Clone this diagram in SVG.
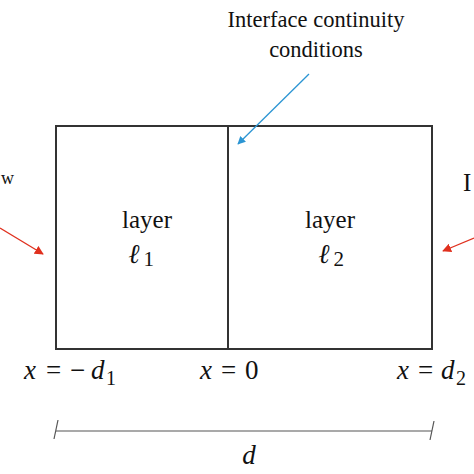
<svg xmlns="http://www.w3.org/2000/svg" width="474" height="474" viewBox="0 0 474 474">
<defs>
<style>
.t{font-family:"Liberation Serif","Times New Roman",serif;fill:#111;}
.i{font-style:italic;}
.box{fill:none;stroke:#333;stroke-width:2;}
.dim{stroke:#555;stroke-width:1.2;fill:none;}
</style>
<marker id="ab" viewBox="0 0 10 10" refX="9" refY="5" markerWidth="8" markerHeight="8" orient="auto" markerUnits="userSpaceOnUse"><path d="M0,0 L10,5 L0,10 z" fill="#2b95d3"/></marker>
<marker id="ar" viewBox="0 0 10 10" refX="9" refY="5" markerWidth="9" markerHeight="9" orient="auto" markerUnits="userSpaceOnUse"><path d="M0,0 L10,5 L0,10 z" fill="#e0301e"/></marker>
</defs>
<rect width="474" height="474" fill="#fff"/>
<g id="layer1">
<rect class="box" x="56" y="126" width="172" height="223"/>
<text class="t" x="147" y="228" font-size="25" text-anchor="middle">layer</text>
<text class="t" x="141" y="263" font-size="27" text-anchor="middle"><tspan class="i">ℓ</tspan><tspan font-size="21" dx="4" dy="3">1</tspan></text>
</g>
<g id="layer2">
<rect class="box" x="228" y="126" width="204" height="223"/>
<text class="t" x="330" y="228" font-size="25" text-anchor="middle">layer</text>
<text class="t" x="331" y="263" font-size="27" text-anchor="middle"><tspan class="i">ℓ</tspan><tspan font-size="21" dx="4" dy="3">2</tspan></text>
</g>
<g id="interface-label">
<text class="t" x="316" y="27" font-size="22.5" text-anchor="middle">Interface continuity</text>
<text class="t" x="316" y="57" font-size="22.5" text-anchor="middle">conditions</text>
</g>
<g id="left-label"><text class="t" x="14" y="184" font-size="18" text-anchor="end">w</text></g>
<g id="right-label"><text class="t" x="463" y="191" font-size="25">I</text></g>
<g id="coords">
<text class="t" y="379" font-size="27"><tspan class="i" x="24">x</tspan><tspan x="46">=</tspan><tspan x="70">−</tspan><tspan class="i" x="91">d</tspan><tspan font-size="20" x="106" dy="6">1</tspan></text>
<text class="t" y="379" font-size="27"><tspan class="i" x="200">x</tspan><tspan x="221">=</tspan><tspan x="245">0</tspan></text>
<text class="t" y="379" font-size="27"><tspan class="i" x="397">x</tspan><tspan x="418">=</tspan><tspan class="i" x="441">d</tspan><tspan font-size="20" x="456" dy="6">2</tspan></text>
<text class="t i" x="249" y="464" font-size="27" text-anchor="middle">d</text>
</g>
<g id="connectors">
<line x1="309" y1="74" x2="238" y2="144" stroke="#2b95d3" stroke-width="1.3" marker-end="url(#ab)"/>
<line x1="0" y1="228" x2="43" y2="254" stroke="#e0301e" stroke-width="1.3" marker-end="url(#ar)"/>
<line x1="474" y1="238" x2="443" y2="251" stroke="#e0301e" stroke-width="1.3" marker-end="url(#ar)"/>
<line class="dim" x1="56" y1="431" x2="432" y2="431"/>
<line class="dim" x1="54" y1="439" x2="58" y2="420"/>
<line class="dim" x1="430" y1="440" x2="434" y2="421"/>
</g>
</svg>
